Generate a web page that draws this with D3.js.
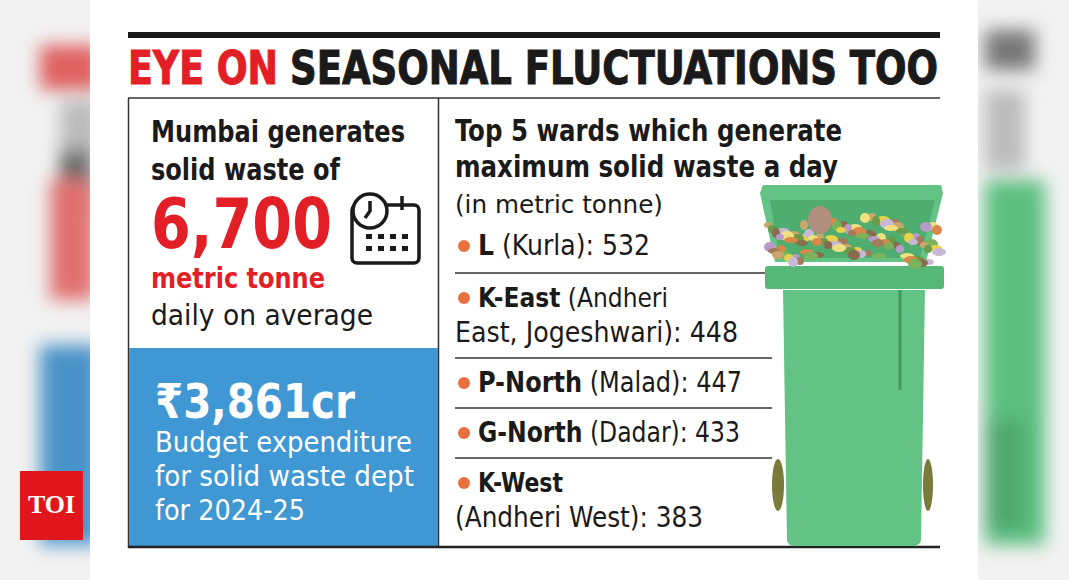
<!DOCTYPE html>
<html><head><meta charset="utf-8">
<script src="https://cdn.jsdelivr.net/npm/d3@7"></script>
<style>body{margin:0;background:#fff}svg{display:block}</style></head>
<body><svg id="c" width="1069" height="580"></svg>
<script>
const titleRed = "EYE ON";
const titleBlack = "SEASONAL FLUCTUATIONS TOO";
const wardNames = ["L", "K-East", "P-North", "G-North", "K-West"];
const wardAreas = ["Kurla", "Andheri East, Jogeshwari", "Malad", "Dadar", "Andheri West"];
const wardValues = [532, 448, 447, 433, 383];
const totalDaily = 6700;
const budgetCr = 3861;

const svg = d3.select("#c");
const defs = svg.append("defs");
defs.append("filter").attr("id","blur").append("feGaussianBlur").attr("stdDeviation",9);
const F = "'DejaVu Sans Condensed','DejaVu Sans',sans-serif";
const RED="#e21f26", BLUE="#3f97d3", GREEN="#62c384", ORANGE="#ea7040";

svg.append("rect").attr("width",1069).attr("height",580).attr("fill","#f2f2f2");
const bg = svg.append("g").attr("filter","url(#blur)");
[[40,45,60,45,"#e06060"],[60,100,40,120,"#bbb"],[60,150,30,40,"#666"],[50,180,45,120,"#e27070"],[40,345,60,200,"#4a92c8"],
 [985,30,50,40,"#777"],[985,90,40,80,"#bbb"],[985,180,60,365,"#5bbf80"],[985,420,40,110,"#4fa870"]].forEach(r=>
  bg.append("rect").attr("x",r[0]).attr("y",r[1]).attr("width",r[2]).attr("height",r[3]).attr("fill",r[4]));
svg.append("rect").attr("x",90).attr("y",0).attr("width",888).attr("height",580).attr("fill","#fff");
svg.append("rect").attr("x",20).attr("y",471).attr("width",63).attr("height",69).attr("fill","#e0161c");
svg.append("text").attr("x",51.5).attr("y",513).attr("text-anchor","middle").attr("fill","#fff")
  .attr("font-family","'Liberation Serif',serif").attr("font-weight","bold").attr("font-size",26).text("TOI");

svg.append("rect").attr("x",128).attr("y",32).attr("width",812).attr("height",6).attr("fill","#1a1a1a");
svg.append("line").attr("x1",128).attr("x2",940).attr("y1",98).attr("y2",98).attr("stroke","#333").attr("stroke-width",1.5);
svg.append("line").attr("x1",128.5).attr("x2",128.5).attr("y1",98).attr("y2",548).attr("stroke","#333").attr("stroke-width",1.5);
svg.append("line").attr("x1",438.5).attr("x2",438.5).attr("y1",98).attr("y2",548).attr("stroke","#333").attr("stroke-width",1.5);
svg.append("rect").attr("x",129).attr("y",348).attr("width",309).attr("height",199).attr("fill",BLUE);
svg.append("line").attr("x1",128).attr("x2",940).attr("y1",547).attr("y2",547).attr("stroke","#222").attr("stroke-width",2.5);

function txt(x,y,size,w,parts,len){
  const t=svg.append("text").attr("x",x).attr("y",y).attr("font-family",F).attr("font-size",size);
  if(len) t.attr("textLength",len).attr("lengthAdjust","spacingAndGlyphs");
  parts.forEach(p=>t.append("tspan").attr("font-weight",p[2]||w).attr("fill",p[1]||"#1a1a1a").text(p[0]));
  return t;
}
txt(128,84,46,"bold",[[titleRed,RED]],150).attr("stroke",RED).attr("stroke-width",1);
txt(290,84,46,"bold",[[titleBlack]],648).attr("stroke","#1a1a1a").attr("stroke-width",1);

txt(151,142,30,"bold",[["Mumbai generates"]],254);
txt(151,180,30,"bold",[["solid waste of"]],189);
txt(151,248,70,"bold",[[d3.format(",")(totalDaily),RED]],181);
txt(151,288,29,"bold",[["metric tonne",RED]],174);
txt(151,325,29,"normal",[["daily on average"]],222);
txt(155,418,48,"bold",[["₹"+d3.format(",")(budgetCr)+"cr","#fff"]],200);
txt(155,452,28,"normal",[["Budget expenditure","#fff"]],257);
txt(155,486,28,"normal",[["for solid waste dept","#fff"]],259);
txt(155,520,28,"normal",[["for 2024-25","#fff"]],150);

const ic=svg.append("g").attr("fill","none").attr("stroke","#1a1a1a").attr("stroke-width",3.5);
ic.append("rect").attr("x",352).attr("y",205).attr("width",67).attr("height",58).attr("rx",5);
ic.append("circle").attr("cx",370).attr("cy",211).attr("r",17).attr("fill","#fff");
ic.append("path").attr("d","M370 201 L370 211 L365 218");
ic.append("path").attr("d","M402 196 L402 210");
for(let r=0;r<2;r++)for(let c=0;c<4;c++) svg.append("rect").attr("x",366+c*12).attr("y",234+r*12).attr("width",6).attr("height",5).attr("fill","#1a1a1a");

txt(455,141,30,"bold",[["Top 5 wards which generate"]],387);
txt(455,177,30,"bold",[["maximum solid waste a day"]],383);
txt(455,213,25,"normal",[["(in metric tonne)"]],208);

const rowY = d3.scaleOrdinal().domain(wardNames).range([255,307,392,442,492]);
const sepY = [273,358,408,458];
const sepX2 = [790,772,772,772];
sepY.forEach((y,i)=>svg.append("line").attr("x1",455).attr("x2",sepX2[i]).attr("y1",y).attr("y2",y).attr("stroke","#333").attr("stroke-width",1.5));
wardNames.forEach((w,i)=>{
  const y=rowY(w);
  svg.append("circle").attr("cx",464).attr("cy",y-9).attr("r",6).attr("fill",ORANGE);
  const a=wardAreas[i], v=wardValues[i];
  if(i===0) txt(478,y,29,"normal",[[w,null,"bold"],[" ("+a+"): "+v]],172);
  else if(i===1){ txt(478,y,27,"normal",[[w,null,"bold"],[" (Andheri"]],190);
    txt(455,y+35,29,"normal",[["East, Jogeshwari): "+v]],283);}
  else if(i===4){ txt(478,y,27,"bold",[[w]],85);
    txt(455,y+35,29,"normal",[["("+a+"): "+v]],248);}
  else txt(478,y,29,"normal",[[w,null,"bold"],[" ("+a+"): "+v]],[0,0,264,262][i]);
});

const b=svg.append("g");
b.append("ellipse").attr("cx",778).attr("cy",485).attr("rx",6).attr("ry",26).attr("fill","#7a7a3a");
b.append("ellipse").attr("cx",928).attr("cy",485).attr("rx",5).attr("ry",26).attr("fill","#7a7a3a");
b.append("path").attr("d","M760 193 L763 185 L941 185 L943 193 L926 262 L775 262 Z").attr("fill",GREEN);
b.append("path").attr("d","M770 200 L935 200 L920 258 L780 258 Z").attr("fill","#4fae6f");
b.append("path").attr("d","M783 290 L925 290 L921 540 Q920 546 912 546 L795 546 Q788 546 787 540 Z").attr("fill",GREEN);
b.append("rect").attr("x",765).attr("y",266).attr("width",179).attr("height",23).attr("rx",3).attr("fill","#55b877");
b.append("line").attr("x1",900).attr("x2",900).attr("y1",290).attr("y2",390).attr("stroke","#3e9a5c").attr("stroke-width",3);
const heapCols=["#c9a66b","#e6d34a","#a57a5a","#7bb35c","#b89ac9","#d9884a","#8a6b4e","#f0e080","#6a9a4a","#c8b8d8"];
const heap=b.append("g");
for(let k=0;k<90;k++){const x=768+((k*37)%172), y=225+((k*53)%40)-(Math.abs(x-855)<50?8:0);
  heap.append("ellipse").attr("cx",x).attr("cy",y).attr("rx",4+(k%4)).attr("ry",3+(k%3)).attr("fill",heapCols[k%heapCols.length]);}
heap.append("ellipse").attr("cx",820).attr("cy",220).attr("rx",12).attr("ry",14).attr("fill","#b08f7f");
</script></body></html>
